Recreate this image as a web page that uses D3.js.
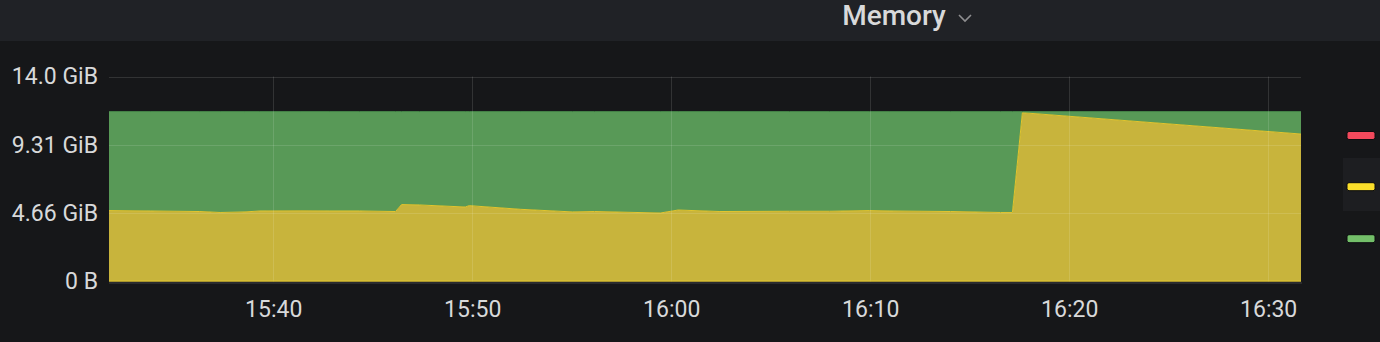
<!DOCTYPE html>
<html>
<head>
<meta charset="utf-8">
<script src="https://cdn.jsdelivr.net/npm/d3@7"></script>
<style>
  html, body { margin: 0; padding: 0; background: #161719; }
  svg { display: block; font-family: Roboto, "Noto Sans", sans-serif; }
</style>
</head>
<body>
<svg id="chart" width="1380" height="342"></svg>
<script>
// sample times and stacked values in GB (1e9 bytes)
var times = ["15:31:45", "15:33:49", "15:36:19", "15:37:20", "15:38:35", "15:39:20",
    "15:41:21", "15:42:51", "15:44:21", "15:46:09", "15:46:27", "15:47:21",
    "15:49:39", "15:49:51", "15:52:27", "15:55:03", "15:56:09", "15:59:27",
    "16:00:21", "16:02:27", "16:05:57", "16:07:57", "16:09:57", "16:10:57",
    "16:14:03", "16:16:33", "16:17:09", "16:17:39", "16:31:39"];
var usedGB = [5.19, 5.16, 5.12, 5.05, 5.09, 5.16, 5.17, 5.16, 5.16, 5.12, 5.63, 5.60,
    5.45, 5.55, 5.28, 5.09, 5.12, 5.01, 5.23, 5.12, 5.14, 5.14, 5.19, 5.16,
    5.12, 5.05, 5.05, 12.35, 10.79];
var freeGB = [7.23, 7.26, 7.30, 7.37, 7.33, 7.26, 7.25, 7.26, 7.26, 7.30, 6.79, 6.82,
    6.97, 6.87, 7.14, 7.33, 7.30, 7.41, 7.19, 7.30, 7.28, 7.28, 7.23, 7.26,
    7.30, 7.37, 7.37, 0.07, 1.63];
var yTicksGB = [0, 5, 10, 15];
var xTickTimes = ["15:40", "15:50", "16:00", "16:10", "16:20", "16:30"];
var seriesColors = ["#F2495C", "#FADE2A", "#73BF69"];

var parseT = d3.timeParse("%H:%M:%S");
var parseHM = d3.timeParse("%H:%M");

var svg = d3.select("#chart");

// panel header
svg.append("rect").attr("x", 0).attr("y", 0).attr("width", 1380).attr("height", 41)
    .attr("fill", "#202226");
svg.append("text").attr("x", 894).attr("y", 25).attr("text-anchor", "middle")
    .attr("font-size", 28).attr("font-weight", 500).attr("fill", "#d8d9da")
    .text("Memory");
svg.append("path").attr("d", "M959,15 L965,21 L971,15")
    .attr("fill", "none").attr("stroke", "#8e8e90").attr("stroke-width", 1.6);

var x = d3.scaleTime()
    .domain([parseT("15:31:45"), parseT("16:31:39")])
    .range([109, 1301]);
var y = d3.scaleLinear().domain([0, 15]).range([281.5, 76.5]);

var rows = times.map(function(t, i) {
    return {t: parseT(t), used: usedGB[i], free: freeGB[i]};
});

var stack = d3.stack().keys(["used", "free"]);
var layers = stack(rows);

var area = d3.area()
    .x(function(d) { return x(d.data.t); })
    .y0(function(d) { return y(d[0]); })
    .y1(function(d) { return y(d[1]); });
var topLine = d3.line()
    .x(function(d) { return x(d.data.t); })
    .y(function(d) { return y(d[1]); });

var fills = ["#c8b43c", "#589957"];
var strokes = ["#e2c62f", "#4f9a52"];

var plot = svg.append("g");
layers.forEach(function(layer, i) {
    plot.append("path").datum(layer).attr("d", area).attr("fill", fills[i]);
});

// grid on top of the fills
var grid = svg.append("g").attr("stroke", "rgba(255,255,255,0.12)").attr("stroke-width", 1);
yTicksGB.slice(1).forEach(function(v) {
    grid.append("line").attr("x1", 109).attr("x2", 1301)
        .attr("y1", Math.round(y(v)) + 0.5).attr("y2", Math.round(y(v)) + 0.5);
});
xTickTimes.forEach(function(t) {
    var px = Math.round(x(parseHM(t))) + 0.5;
    grid.append("line").attr("x1", px).attr("x2", px).attr("y1", 76.5).attr("y2", 281.5);
});

layers.forEach(function(layer, i) {
    plot.append("path").datum(layer).attr("d", topLine)
        .attr("fill", "none").attr("stroke", strokes[i]).attr("stroke-width", 1);
});
// zero line / bottom edge like the reference
svg.append("line").attr("x1", 109).attr("x2", 1301).attr("y1", 281).attr("y2", 281)
    .attr("stroke", "#e2c62f").attr("stroke-width", 1);
svg.append("line").attr("x1", 109).attr("x2", 1302).attr("y1", 283).attr("y2", 283)
    .attr("stroke", "#2a2b2e").attr("stroke-width", 2);

// y axis labels
function fmtBytes(v) {
    if (v === 0) return "0 B";
    return d3.format(".3r")(v * 1e9 / Math.pow(2, 30)) + " GiB";
}
var yAxis = d3.axisLeft(y).tickValues(yTicksGB).tickFormat(fmtBytes).tickSize(0).tickPadding(0);
var gy = svg.append("g").attr("transform", "translate(98,0)").call(yAxis);
gy.select(".domain").remove();
gy.selectAll("text").attr("font-size", 23).attr("fill", "#d8d9da")
    .attr("font-family", "Roboto, sans-serif");

// x axis labels
var xAxis = d3.axisBottom(x).tickValues(xTickTimes.map(parseHM))
    .tickFormat(d3.timeFormat("%H:%M")).tickSize(0).tickPadding(0);
var gx = svg.append("g").attr("transform", "translate(0,299)").call(xAxis);
gx.select(".domain").remove();
gx.selectAll("text").attr("font-size", 23).attr("fill", "#d8d9da")
    .attr("font-family", "Roboto, sans-serif").attr("dy", "0.8em");

// legend swatches
svg.append("rect").attr("x", 1343).attr("y", 158).attr("width", 37).attr("height", 53)
    .attr("fill", "#1d1e21");
var legendY = [135.5, 186.7, 238.7];
seriesColors.forEach(function(c, i) {
    svg.append("rect").attr("x", 1347).attr("y", legendY[i] - 4).attr("width", 28)
        .attr("height", 8).attr("rx", 2).attr("fill", c)
        .attr("stroke", "#0b0c0e").attr("stroke-width", 1);
});
</script>
</body>
</html>
